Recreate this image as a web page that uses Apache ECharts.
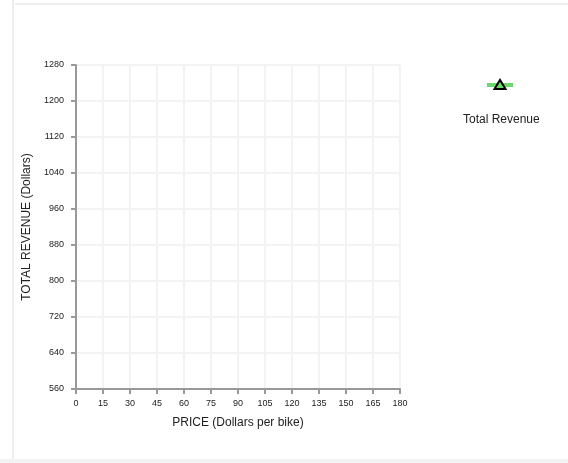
<!DOCTYPE html>
<html><head><meta charset="utf-8">
<script src="https://cdn.jsdelivr.net/npm/echarts@6/dist/echarts.min.js"></script>
<style>html,body{margin:0;padding:0;background:#fff}#c{width:568px;height:463px}</style>
</head><body><div id="c"></div>
<script>
const xTicks = [0,15,30,45,60,75,90,105,120,135,150,165,180];
const yTicks = [560,640,720,800,880,960,1040,1120,1200,1280];
const seriesName = 'Total Revenue';
const revenueData = [];
const chart = echarts.init(document.getElementById('c'));
const F = 'Liberation Sans, Arial, sans-serif';
chart.setOption({
  animation:false,
  grid:{left:76,top:65,width:324,height:324,containLabel:false},
  xAxis:{type:'value',min:0,max:180,interval:15,
    name:'PRICE (Dollars per bike)',nameLocation:'middle',nameGap:28,
    nameTextStyle:{fontFamily:F,fontSize:12,color:'#222'},
    axisLine:{lineStyle:{color:'#999',width:2}},
    axisTick:{show:true,length:5,lineStyle:{color:'#999',width:2}},
    axisLabel:{fontFamily:F,fontSize:9,color:'#222',margin:10,formatter:v=>String(v)},
    splitLine:{lineStyle:{color:'#f3f3f3',width:2}}},
  yAxis:{type:'value',min:560,max:1280,interval:80,
    name:'TOTAL REVENUE (Dollars)',nameLocation:'middle',nameGap:42,
    nameTextStyle:{fontFamily:F,fontSize:12,color:'#222'},
    axisLine:{show:true,lineStyle:{color:'#999',width:2}},
    axisTick:{show:true,length:5,lineStyle:{color:'#999',width:2}},
    axisLabel:{fontFamily:F,fontSize:9,color:'#222',margin:12,formatter:v=>String(v)},
    splitLine:{lineStyle:{color:'#f3f3f3',width:2}}},
  series:[{name:seriesName,type:'line',data:revenueData,symbol:'triangle',
    itemStyle:{color:'#fff',borderColor:'#000'},lineStyle:{color:'#6bd86b',width:3}}],
  graphic:[
    {type:'line',shape:{x1:15,y1:4,x2:568,y2:4},style:{stroke:'#ddd',lineWidth:1}},
    {type:'line',shape:{x1:13,y1:0,x2:13,y2:463},style:{stroke:'#ddd',lineWidth:1}},
    {type:'rect',shape:{x:0,y:459,width:568,height:4},style:{fill:'#f3f3f3'}},
    {type:'line',shape:{x1:487,y1:85,x2:513,y2:85},style:{stroke:'#6bd86b',lineWidth:4}},
    {type:'polygon',shape:{points:[[500,80],[494.5,89],[505.5,89]]},style:{fill:'#6bd86b',stroke:'#000',lineWidth:2}},
    {type:'text',left:463,top:114,style:{text:seriesName,fontFamily:F,fontSize:12,fill:'#222'}}
  ]
});
</script></body></html>
